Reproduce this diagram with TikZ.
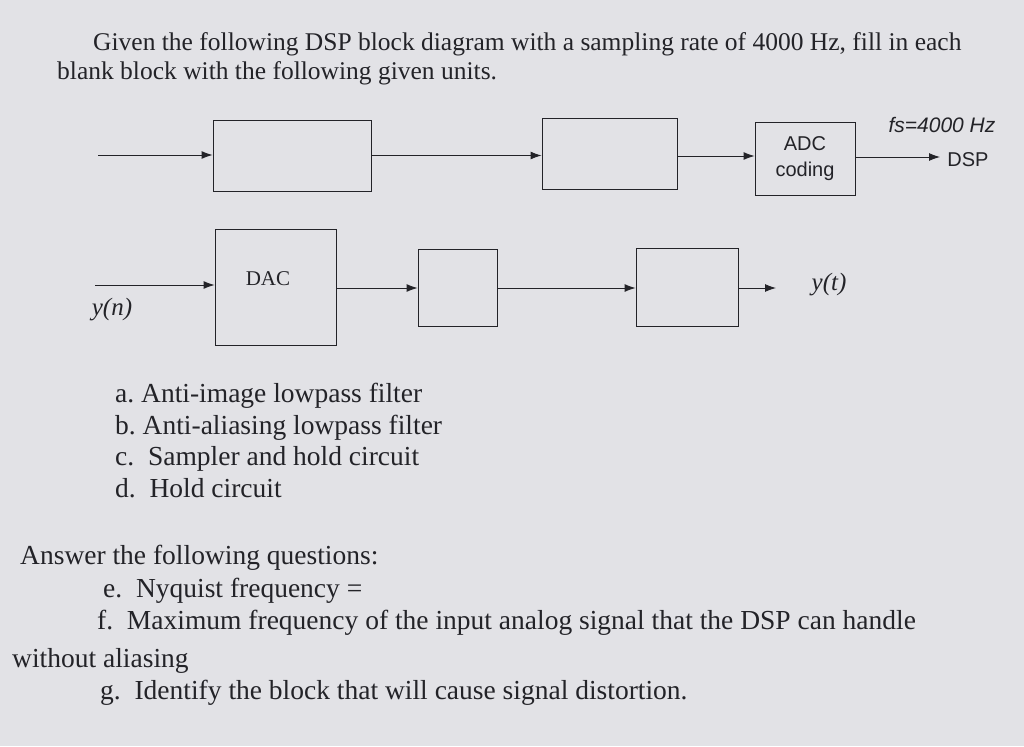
\documentclass[tikz,border=0pt]{standalone}
\usepackage{fontspec}
\setmainfont{Liberation Serif}
\setsansfont{Liberation Sans}
\usetikzlibrary{arrows.meta}
\definecolor{paper}{RGB}{226,226,230}
\definecolor{ink}{RGB}{35,35,40}
\begin{document}
\begin{tikzpicture}[x=1pt,y=-1pt,
  blk/.style={draw=ink,line width=0.9pt},
  arr/.style={draw=ink,line width=0.9pt,-{Latex[length=11pt,width=8pt]}},
  txt/.style={text=ink,font=\fontsize{27.5}{30}\selectfont,anchor=base west,inner sep=0},
  stxt/.style={text=ink,font=\sffamily\fontsize{20}{23}\selectfont,inner sep=0}]
\fill[paper] (0,0) rectangle (1024,746);
\useasboundingbox (0,0) rectangle (1024,746);
\node[txt,font=\fontsize{25.5}{30}\selectfont] (t1) at (93,51) {Given the following DSP block diagram with a sampling rate of 4000 Hz, fill in each};
\node[txt,font=\fontsize{25.5}{30}\selectfont] (t2) at (57,80) {blank block with the following given units.};
% top row
\coordinate (in1) at (98,155);
\node[blk,minimum width=158,minimum height=71] (b1) at (292,155.5) {};
\node[blk,minimum width=135,minimum height=71] (b2) at (609.5,153.5) {};
\node[blk,minimum width=100,minimum height=73,align=center,stxt] (adc) at (805,158.5) {ADC\\[3pt]coding};
\node[stxt,font=\sffamily\itshape\fontsize{21}{24}\selectfont] (fs) at (942,125) {fs=4000 Hz};
\node[stxt] (dsp) at (968,160) {DSP};
\draw[arr] (in1) -- (in1 -| b1.west);
\draw[arr] (b1.east) -- (b1.east -| b2.west);
\draw[arr] (b2.east |- 0,156) -- (adc.west |- 0,156);
\draw[arr] (adc.east |- 0,157) -- (940,157) coordinate (o1);
% bottom row
\coordinate (in2) at (95,285);
\node[text=ink,font=\itshape\fontsize{25}{28}\selectfont] (yn) at (112,310) {y(n)};
\node[blk,minimum width=121,minimum height=116] (dac) at (275.5,287) {};
\node[text=ink,font=\fontsize{21}{24}\selectfont] (dact) at (268,279) {DAC};
\node[blk,minimum width=79,minimum height=77] (b3) at (457.5,287.5) {};
\node[blk,minimum width=102,minimum height=78] (b4) at (687,287) {};
\node[text=ink,font=\itshape\fontsize{25}{28}\selectfont] (yt) at (829,285) {y(t)};
\draw[arr] (in2) -- (in2 -| dac.west);
\draw[arr] (dac.east |- 0,288) -- (b3.west |- 0,288);
\draw[arr] (b3.east |- 0,288) -- (b4.west |- 0,288);
\draw[arr] (b4.east |- 0,288) -- (776,288) coordinate (o4);
% list
\node[txt] (la) at (115,402) {a.\ Anti-image lowpass filter};
\node[txt] (lb) at (115,434) {b.\ Anti-aliasing lowpass filter};
\node[txt] (lc) at (115,465) {c.\ \ Sampler and hold circuit};
\node[txt] (ld) at (115,497) {d.\ \ Hold circuit};
\node[txt] (q0) at (20,564) {Answer the following questions:};
\node[txt] (qe) at (103,597) {e.\ \ Nyquist frequency =};
\node[txt] (qf) at (97,629) {f.\ \ Maximum frequency of the input analog signal that the DSP can handle};
\node[txt] (qf2) at (12,667) {without aliasing};
\node[txt] (qg) at (100,699) {g.\ \ Identify the block that will cause signal distortion.};
\end{tikzpicture}
\end{document}
